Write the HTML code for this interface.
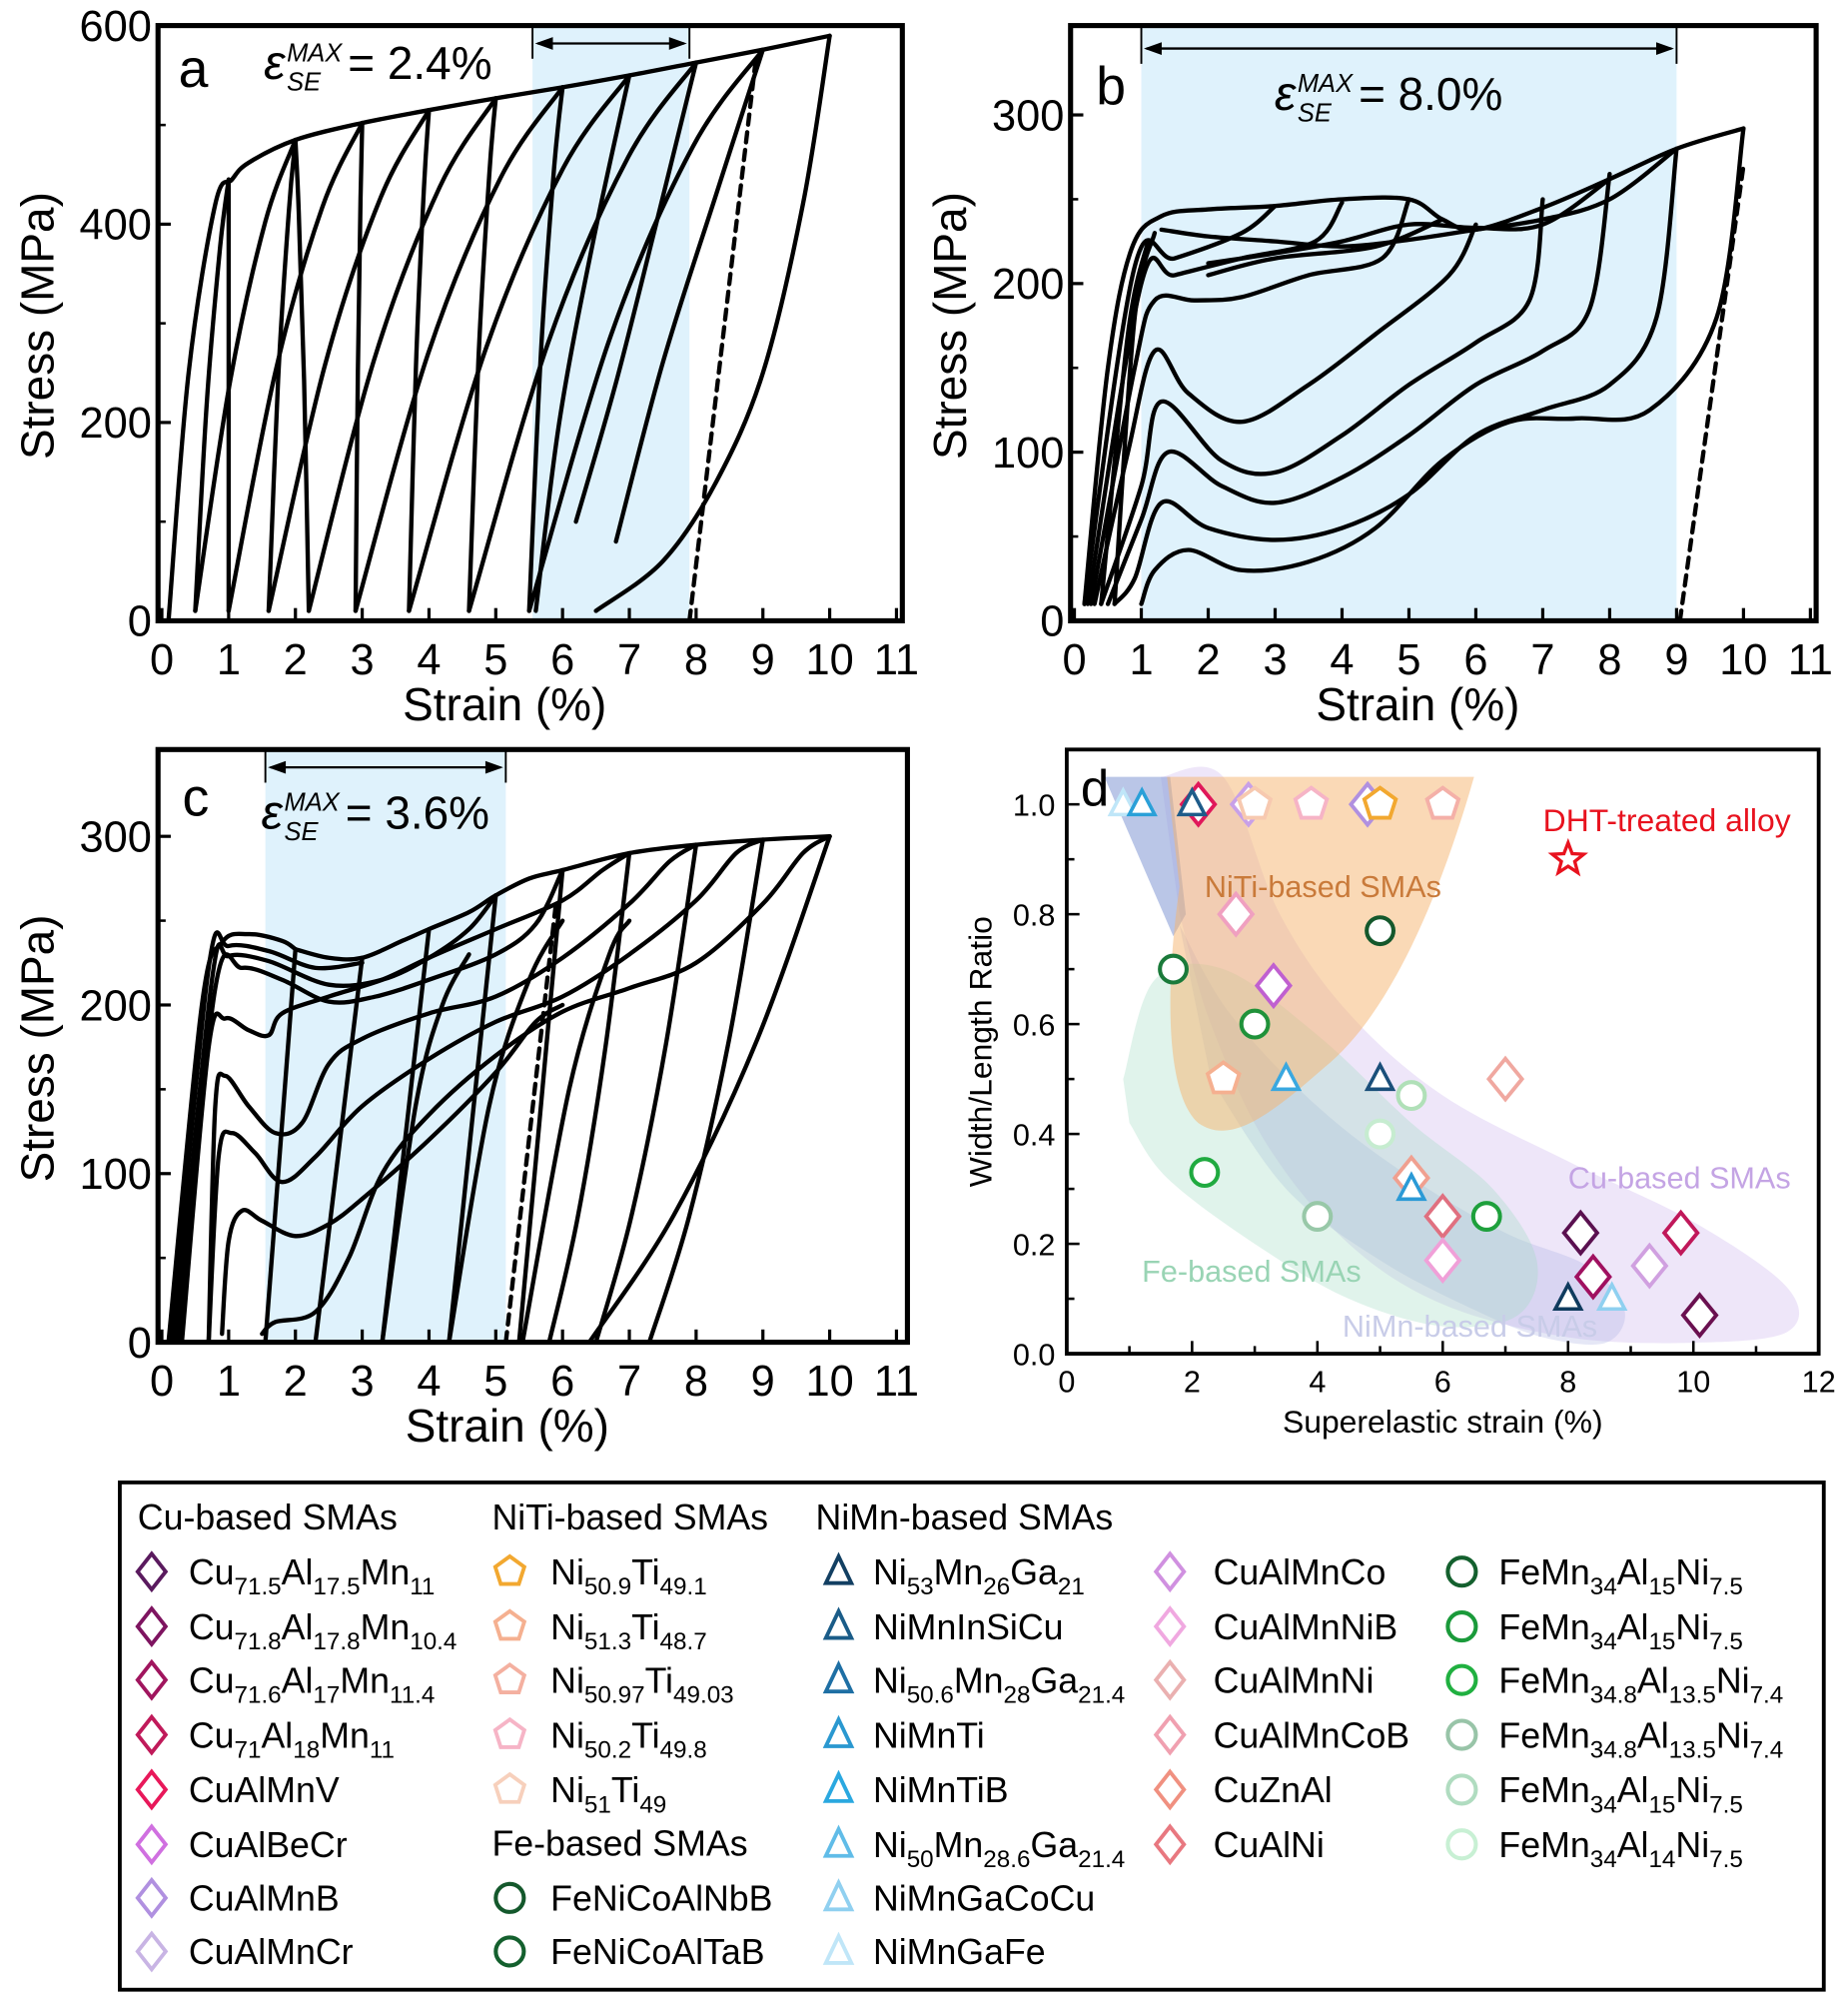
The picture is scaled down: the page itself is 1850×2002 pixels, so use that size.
<!DOCTYPE html>
<html><head><meta charset="utf-8">
<style>html,body{margin:0;padding:0;background:#fff;}svg{display:block;}
text{font-family:"Liberation Sans",sans-serif;}</style></head>
<body>
<svg id="s" width="1850" height="2002" viewBox="0 0 1450 1569" xmlns="http://www.w3.org/2000/svg"></svg>
<script>
var out=[];
function P(s){out.push(s);}
function cr(pts){
 if(pts.length<3){return "M"+pts.map(p=>p[0].toFixed(1)+","+p[1].toFixed(1)).join("L");}
 var d="M"+pts[0][0].toFixed(1)+","+pts[0][1].toFixed(1);
 for(var i=0;i<pts.length-1;i++){
  var p0=pts[i-1]||pts[i],p1=pts[i],p2=pts[i+1],p3=pts[i+2]||p2;
  var c1=[p1[0]+(p2[0]-p0[0])/6,p1[1]+(p2[1]-p0[1])/6];
  var c2=[p2[0]-(p3[0]-p1[0])/6,p2[1]-(p3[1]-p1[1])/6];
  d+="C"+c1[0].toFixed(1)+","+c1[1].toFixed(1)+" "+c2[0].toFixed(1)+","+c2[1].toFixed(1)+" "+p2[0].toFixed(1)+","+p2[1].toFixed(1);
 }
 return d;
}
function curve(X,Y,pts,extra){P('<path d="'+cr(pts.map(p=>[X(p[0]),Y(p[1])]))+'" fill="none" stroke="#000" stroke-width="3.4" stroke-linejoin="round" stroke-linecap="round" '+(extra||'')+'/>');}
function frame(x0,y0,x1,y1){P('<rect x="'+x0+'" y="'+y0+'" width="'+(x1-x0)+'" height="'+(y1-y0)+'" fill="none" stroke="#000" stroke-width="4"/>');}

function stressPanel(o){
 var X=v=>o.xo+o.xs*v, Y=v=>o.yb-o.ys*v;
 P('<rect x="'+X(o.sh[0])+'" y="'+o.top+'" width="'+(X(o.sh[1])-X(o.sh[0]))+'" height="'+(o.yb-o.top)+'" fill="#dff2fc"/>');
 var ay=o.ay;
 P('<line x1="'+X(o.sh[0])+'" y1="'+o.top+'" x2="'+X(o.sh[0])+'" y2="'+(ay+12)+'" stroke="#000" stroke-width="1.5"/>');
 P('<line x1="'+X(o.sh[1])+'" y1="'+o.top+'" x2="'+X(o.sh[1])+'" y2="'+(ay+12)+'" stroke="#000" stroke-width="1.5"/>');
 P('<line x1="'+(X(o.sh[0])+4)+'" y1="'+ay+'" x2="'+(X(o.sh[1])-4)+'" y2="'+ay+'" stroke="#000" stroke-width="1.8"/>');
 P('<path d="M'+(X(o.sh[0])+2)+','+ay+'l14,-5v10z M'+(X(o.sh[1])-2)+','+ay+'l-14,-5v10z" fill="#000"/>');
 o.curves.forEach(c=>curve(X,Y,c));
 o.dash.forEach(c=>curve(X,Y,c,'stroke-dasharray="8,6" stroke-width="2"'));
 frame(o.left,o.top,o.right,o.yb);
 for(var i=0;i<=11;i++){P('<line x1="'+X(i)+'" y1="'+o.yb+'" x2="'+X(i)+'" y2="'+(o.yb-10)+'" stroke="#000" stroke-width="2.5"/>');
  P('<text x="'+X(i)+'" y="'+(o.yb+42)+'" font-size="34" text-anchor="middle">'+i+'</text>');}
 o.yt.forEach(v=>{P('<line x1="'+o.left+'" y1="'+Y(v)+'" x2="'+(o.left+10)+'" y2="'+Y(v)+'" stroke="#000" stroke-width="2.5"/>');
  P('<text x="'+(o.left-5)+'" y="'+(Y(v)+12)+'" font-size="34" text-anchor="end">'+v+'</text>');});
 o.ym.forEach(v=>P('<line x1="'+o.left+'" y1="'+Y(v)+'" x2="'+(o.left+6)+'" y2="'+Y(v)+'" stroke="#000" stroke-width="2"/>'));
 P('<text x="'+((o.left+o.right)/2-20)+'" y="'+(o.yb+78)+'" font-size="36" text-anchor="middle">Strain (%)</text>');
 P('<text transform="translate('+(o.left-82)+','+((o.top+o.yb)/2+2)+') rotate(-90)" font-size="36" text-anchor="middle">Stress (MPa)</text>');
 P('<text x="'+o.lab[0]+'" y="'+o.lab[1]+'" font-size="42">'+o.lab[2]+'</text>');
 var tx=o.tx,ty=o.ty;
 P('<text x="'+tx+'" y="'+ty+'" font-size="38" font-family="Liberation Serif,serif" font-style="italic">ε</text>');
 P('<text x="'+(tx+18)+'" y="'+(ty-14)+'" font-size="20" font-style="italic">MAX</text>');
 P('<text x="'+(tx+18)+'" y="'+(ty+9)+'" font-size="20" font-style="italic">SE</text>');
 P('<text x="'+(tx+66)+'" y="'+ty+'" font-size="36">= '+o.val+'</text>');
}

// ---------- panel a
var ca=[];
ca.push([[0.1,0],[0.4,250],[0.8,420],[1.05,445],[1.3,462],[2,485],[3,502],[4,515],[5,527],[6,538],[7,550],[8,563],[9,576],[10,590]]);
var pk={1:445,2:485,3:502,4:515,5:527,6:538,7:550,8:563,9:576,10:590};
var bot=[0.1,0.5,1.0,1.6,2.2,2.9,3.7,4.6,5.5,6.5];
[[0.5,1],[1.0,1],[1.6,2],[2.2,2],[2.9,3],[3.7,4],[4.6,5],[5.5,6]].forEach(p=>{var b=p[0],k=p[1];ca.push([[b,10],[b+(k-b)*0.35,pk[k]*0.5],[b+(k-b)*0.75,pk[k]*0.85],[k,pk[k]]]);});
for(var k=2;k<=9;k++){var b=bot[k-1],h=pk[k];ca.push([[k,h],[b+0.7*(k-b),h*0.83],[b+0.35*(k-b),h*0.5],[b,10]]);}
ca.push([[7,550],[6.45,380],[5.95,200],[5.6,10]]);
ca.push([[8,563],[7.4,400],[6.8,240],[6.2,100]]);
ca.push([[9,576],[8.3,430],[7.5,260],[6.8,80]]);
ca.push([[10,590],[9.6,420],[9.0,250],[8.3,140],[7.5,60],[6.5,10]]);
stressPanel({xo:127,xs:52.4,yb:487,ys:0.778,top:20,left:124,right:708,sh:[5.55,7.9],ay:34,
 curves:ca,dash:[[[7.9,0],[8.9,570]]],yt:[0,200,400,600],ym:[100,300,500],lab:[140,68,'a'],tx:207,ty:62,val:'2.4%'});

// ---------- panel b
var cb=[];
cb.push([[0.15,10],[0.5,150],[0.85,220],[1.3,240],[2,244],[3,246],[4,250],[5,250],[5.5,238],[6,232],[7,245],[8,262],[9,280],[10,292]]);
cb.push([[10,292],[9.6,180],[8.6,125],[7.5,120],[6.5,118],[5.5,95],[4.5,55],[3.5,35],[2.5,30],[1.7,42],[1.2,30],[1.0,10]]);
cb.push([[9,280],[8.7,180],[8,140],[7,125],[6,110],[5,75],[4,55],[3,48],[2,55],[1.3,70],[0.9,25],[0.6,10]]);
cb.push([[8,265],[7.7,185],[7,160],[6,140],[5,110],[4,85],[3,70],[2.2,80],[1.4,100],[1,60],[0.5,10]]);
cb.push([[7,250],[6.8,190],[6,165],[5,140],[4,110],[3,88],[2.2,95],[1.3,130],[1,80],[0.4,10]]);
cb.push([[6,235],[5.6,205],[4.5,170],[3.5,140],[2.5,118],[1.7,135],[1.2,160],[0.8,100],[0.3,10]]);
cb.push([[5,250],[4.6,215],[3.5,205],[2.5,192],[1.8,190],[1.2,190],[0.9,150],[0.25,10]]);
cb.push([[4,248],[3.6,225],[2.5,215],[1.5,205],[1.0,200],[0.2,10]]);
cb.push([[3,246],[2.5,230],[1.5,215],[0.9,210],[0.15,10]]);
cb.push([[5.5,238],[4.5,222],[3,215],[2,205]]);
cb.push([[8,262],[7,235],[6,233],[5,235],[4,225],[3,218],[2,212]]);
cb.push([[9,280],[8,250],[7,238],[6,232],[5,226],[4,222],[3,225],[2,228],[1.3,232]]);
cb.push([[0.6,10],[0.9,180],[1.2,230]]);
cb.push([[0.4,10],[0.8,170],[1.1,225]]);
stressPanel({xo:843,xs:52.5,yb:487,ys:1.323,top:20,left:840,right:1425,sh:[1.0,9.0],ay:38,
 curves:cb,dash:[[[9.05,0],[10,270]]],yt:[0,100,200,300],ym:[50,150,250],lab:[860,82,'b'],tx:1000,ty:86,val:'8.0%'});

// ---------- panel c
var cc=[];
cc.push([[0.1,0],[0.6,200],[0.9,237],[1.3,242],[1.8,238],[2,233]]);
cc.push([[2,233],[2.5,228],[3,228],[3.6,238],[4,245],[4.6,255],[5,265],[5.5,275],[6,280],[7,290],[8,295],[9,298],[10,300]]);
cc.push([[0.15,0],[0.7,222],[1.0,235],[1.6,232],[2.3,222],[3,225]]);
cc.push([[0.2,0],[0.75,215],[1.0,229],[1.6,226],[2.5,212],[3.3,215],[4,228],[4.6,245],[5,265]]);
cc.push([[0.25,0],[0.8,210],[1.2,222],[1.8,215],[2.5,202],[3.2,205],[4,215],[5,230],[5.6,248],[6,280]]);
cc.push([[0.3,0],[0.7,175],[0.95,192],[1.3,185],[1.6,182],[1.8,195],[2.5,205],[3.3,215],[4,228],[5,245],[6,262],[6.6,280],[7,290]]);
cc.push([[0.7,0],[0.8,140],[0.95,158],[1.3,140],[1.7,124],[2.1,130],[2.5,165],[3,180],[4,195],[5,205],[6,228],[7,260],[7.6,285],[8,295]]);
cc.push([[0.7,0],[0.85,110],[1.05,124],[1.4,112],[1.8,95],[2.3,110],[3,140],[4,168],[5,190],[6,205],[7,230],[8,262],[8.6,290],[9,298]]);
cc.push([[1.5,5],[1.7,12],[2.3,18],[2.8,50],[3.3,100],[4,135],[5,170],[6,196],[7,210],[8,225],[9,260],[9.6,290],[10,300]]);
cc.push([[0.9,5],[1.0,60],[1.2,78],[1.5,72],[2,63],[2.5,70],[3,85],[4,120],[5,160],[5.6,190],[6,200]]);
[[2,233,1.55],[3,228,2.3],[4,245,3.3],[5,265,4.3],[6,280,5.35],[7,290,5.8],[8,295,6.5],[9,298,7.3],[10,300,6.4]].forEach(p=>{
 var k=p[0],h=p[1],b=p[2];
 if(k<=6) cc.push([[k,h],[b+(k-b)*0.45,h*0.45],[b,0]]);
 else cc.push([[k,h],[k-(k-b)*0.3,h*0.6],[k-(k-b)*0.65,h*0.25],[b,0]]);
});
cc.push([[3.3,0],[3.8,140],[4.2,200],[4.6,230]]);
cc.push([[4.3,0],[4.9,140],[5.5,215],[6,250]]);
cc.push([[5.4,0],[6.1,150],[6.7,230],[7,250]]);
stressPanel({xo:127,xs:52.4,yb:1053,ys:1.323,top:588,left:124,right:712,sh:[1.55,5.15],ay:602,
 curves:cc,dash:[[[5.15,0],[5.9,260]]],yt:[0,100,200,300],ym:[50,150,250],lab:[143,640,'c'],tx:205,ty:650,val:'3.6%'});

// ---------- panel d
(function(){
 var X=v=>837+49.17*v, Y=v=>1062-431*v;
 function poly(pts,fill){P('<path d="'+cr(pts.map(p=>[X(p[0]),Y(p[1])]))+'Z" fill="'+fill+'" stroke="none"/>');}
 P('<clipPath id="cd"><rect x="837" y="588" width="590" height="474"/></clipPath><g clip-path="url(#cd)">');
 poly([[1.5,1.05],[2.5,1.05],[3.4,0.8],[4.5,0.62],[6,0.47],[8,0.35],[10,0.24],[11.5,0.12],[11.5,0.04],[10,0.02],[8,0.03],[6,0.09],[4.5,0.2],[3.2,0.38],[2.3,0.6],[1.8,0.8]],'rgba(214,195,240,0.42)');
 P('<path d="M'+X(0.6)+','+Y(1.05)+'L'+X(1.65)+','+Y(1.05)+'L'+X(1.9)+','+Y(0.8)+'L'+X(1.7)+','+Y(0.76)+'Z" fill="rgba(140,160,215,0.6)"/>');
 poly([[1.8,0.78],[2.6,0.62],[4,0.45],[5.5,0.32],[7,0.22],[8.3,0.16],[8.9,0.08],[8.6,0.02],[7.6,0.03],[6.5,0.08],[5,0.17],[3.5,0.3],[2.3,0.5]],'rgba(170,175,225,0.3)');
 poly([[0.9,0.5],[1.4,0.68],[2.5,0.7],[4,0.58],[5.5,0.42],[6.8,0.3],[7.5,0.17],[7.2,0.07],[6,0.05],[4.5,0.1],[3,0.2],[1.6,0.32],[1.0,0.42]],'rgba(160,220,195,0.33)');
 P('<path d="M'+X(1.6)+','+Y(1.05)+'L'+X(6.5)+','+Y(1.05)+' C'+X(6.0)+','+Y(0.85)+' '+X(5.2)+','+Y(0.62)+' '+X(4.1)+','+Y(0.52)+' C'+X(3.2)+','+Y(0.43)+' '+X(2.6)+','+Y(0.38)+' '+X(2.1)+','+Y(0.42)+' C'+X(1.6)+','+Y(0.47)+' '+X(1.55)+','+Y(0.65)+' '+X(1.8)+','+Y(0.85)+'Z" fill="rgba(245,180,110,0.5)"/>');
 P('</g>');
 P('<text x="'+X(2.2)+'" y="'+(Y(0.85)+8)+'" font-size="24" fill="#c97a3a">NiTi-based SMAs</text>');
 P('<text x="'+X(8)+'" y="'+(Y(0.32)+8)+'" font-size="24" fill="#c4a4e4">Cu-based SMAs</text>');
 P('<text x="'+X(1.2)+'" y="'+(Y(0.15)+8)+'" font-size="24" fill="#99d4b4">Fe-based SMAs</text>');
 P('<text x="'+X(4.4)+'" y="'+(Y(0.05)+8)+'" font-size="24" fill="#c8cce8">NiMn-based SMAs</text>');
 P('<text x="'+X(7.6)+'" y="'+(Y(0.97)+8)+'" font-size="25" fill="#e8121e">DHT-treated alloy</text>');
 function tri(x,y,c){var cx=X(x),cy=Y(y);P('<path d="M'+cx+','+(cy-11)+'L'+(cx+10)+','+(cy+8)+'L'+(cx-10)+','+(cy+8)+'Z" fill="#fff" stroke="'+c+'" stroke-width="2.8"/>');}
 function dia(x,y,c){var cx=X(x),cy=Y(y);P('<path d="M'+cx+','+(cy-16)+'L'+(cx+13)+','+cy+'L'+cx+','+(cy+16)+'L'+(cx-13)+','+cy+'Z" fill="#fff" stroke="'+c+'" stroke-width="3"/>');}
 function pen(x,y,c){var cx=X(x),cy=Y(y),d='';for(var i=0;i<5;i++){var a=-Math.PI/2+i*2*Math.PI/5;d+=(i?'L':'M')+(cx+13*Math.cos(a)).toFixed(1)+','+(cy+13*Math.sin(a)).toFixed(1);}P('<path d="'+d+'Z" fill="#fff" stroke="'+c+'" stroke-width="3"/>');}
 function cir(x,y,c){P('<circle cx="'+X(x)+'" cy="'+Y(y)+'" r="10.5" fill="#fff" stroke="'+c+'" stroke-width="3.2"/>');}
 tri(0.9,1,'#bfe6f8');tri(1.2,1,'#2aa0d8');
 dia(2.1,1,'#e0185a');tri(2.0,1,'#1e5c8a');
 dia(2.9,1,'#c8a0e8');pen(3,1,'#f7c9b0');pen(3.9,1,'#f6b4c6');dia(4.8,1,'#b090e0');pen(5,1,'#f2a830');pen(6,1,'#f4b0a8');
 dia(2.7,0.8,'#f0a0c0');cir(5,0.77,'#14582c');cir(1.7,0.7,'#1a7a3a');dia(3.3,0.67,'#c060d0');cir(3,0.6,'#20923a');
 pen(2.5,0.5,'#f5b090');tri(3.5,0.5,'#3aa8e0');tri(5,0.5,'#1a4f7a');cir(5.5,0.47,'#b0e0b8');dia(7,0.5,'#f0a8a0');
 cir(5,0.4,'#c6ecd0');cir(2.2,0.33,'#20aa40');dia(5.5,0.32,'#f0a090');tri(5.5,0.3,'#2b9ad6');
 cir(4,0.25,'#98c8a8');dia(6,0.25,'#e07080');cir(6.7,0.25,'#1ea03c');dia(6,0.17,'#f0a0d8');
 dia(8.2,0.22,'#5a1050');dia(8.4,0.14,'#a01060');tri(8,0.1,'#0f3b5e');tri(8.7,0.1,'#8fd0f0');dia(9.3,0.16,'#d0a0e0');dia(9.8,0.22,'#c0185a');dia(10.1,0.07,'#6a1050');
 var sx=X(8),sy=Y(0.9),d='';for(var i=0;i<10;i++){var a=-Math.PI/2+i*Math.PI/5,r=i%2?5.5:13;d+=(i?'L':'M')+(sx+r*Math.cos(a)).toFixed(1)+','+(sy+r*Math.sin(a)).toFixed(1);}
 P('<path d="'+d+'Z" fill="#fff" stroke="#e8121e" stroke-width="2.6"/>');
 P('<rect x="837" y="588" width="590" height="474" fill="none" stroke="#000" stroke-width="3"/>');
 for(var i=0;i<=12;i++){var xx=X(i);P('<line x1="'+xx+'" y1="1062" x2="'+xx+'" y2="'+(i%2?1056:1052)+'" stroke="#000" stroke-width="2"/>');
  if(i%2==0)P('<text x="'+xx+'" y="1092" font-size="24" text-anchor="middle">'+i+'</text>');}
 for(var j=0;j<=10;j++){var v=j/10,yy=Y(v);P('<line x1="837" y1="'+yy+'" x2="'+(j%2?843:847)+'" y2="'+yy+'" stroke="#000" stroke-width="2"/>');
  if(j%2==0)P('<text x="828" y="'+(yy+9)+'" font-size="24" text-anchor="end">'+v.toFixed(1)+'</text>');}
 P('<text x="1132" y="1124" font-size="25" text-anchor="middle">Superelastic strain (%)</text>');
 P('<text transform="translate(778,825) rotate(-90)" font-size="25" text-anchor="middle">Width/Length Ratio</text>');
 P('<text x="848" y="632" font-size="40">d</text>');
})();

// ---------- legend
P('<rect x="94" y="1163" width="1337" height="398" fill="#fff" stroke="#000" stroke-width="3"/>');
function lt(x,y,parts){
 var s='<text x="'+x+'" y="'+y+'" font-size="28">',sub=false;
 parts.forEach(p=>{s+='<tspan'+(sub?' dy="-8"':'')+'>'+p[0]+'</tspan>';sub=false;if(p[1]){s+='<tspan font-size="19" dy="8">'+p[1]+'</tspan>';sub=true;}});
 P(s+'</text>');
}
function parse(str){var a=[],re=/([^_]+)(?:_\{([^}]*)\})?/g,m;while((m=re.exec(str))){a.push([m[1],m[2]]);}return a;}
P('<text x="108" y="1200" font-size="28">Cu-based  SMAs</text>');
P('<text x="386" y="1200" font-size="28">NiTi-based  SMAs</text>');
P('<text x="640" y="1200" font-size="28">NiMn-based  SMAs</text>');
P('<text x="386" y="1456" font-size="28">Fe-based  SMAs</text>');
var rows=[1233,1276,1318,1361,1404,1447,1489,1531];
function mk(type,x,y,c){
 if(type=='d')P('<path d="M'+x+','+(y-14)+'L'+(x+11)+','+y+'L'+x+','+(y+14)+'L'+(x-11)+','+y+'Z" fill="#fff" stroke="'+c+'" stroke-width="3"/>');
 if(type=='p'){var d='';for(var i=0;i<5;i++){var a=-Math.PI/2+i*2*Math.PI/5;d+=(i?'L':'M')+(x+12*Math.cos(a)).toFixed(1)+','+(y+12*Math.sin(a)).toFixed(1);}P('<path d="'+d+'Z" fill="#fff" stroke="'+c+'" stroke-width="3"/>');}
 if(type=='t')P('<path d="M'+x+','+(y-12)+'L'+(x+10)+','+(y+9)+'L'+(x-10)+','+(y+9)+'Z" fill="#fff" stroke="'+c+'" stroke-width="3"/>');
 if(type=='c')P('<circle cx="'+x+'" cy="'+y+'" r="11" fill="#fff" stroke="'+c+'" stroke-width="3.2"/>');
}
var cols=[
 {mx:119,tx:148,items:[['d','#5a1a5e','Cu_{71.5}Al_{17.5}Mn_{11}'],['d','#7e1460','Cu_{71.8}Al_{17.8}Mn_{10.4}'],['d','#a0155e','Cu_{71.6}Al_{17}Mn_{11.4}'],['d','#c01a5a','Cu_{71}Al_{18}Mn_{11}'],['d','#e8185a','CuAlMnV'],['d','#d070e0','CuAlBeCr'],['d','#b090e0','CuAlMnB'],['d','#c8b4e4','CuAlMnCr']]},
 {mx:400,tx:432,items:[['p','#f2a830','Ni_{50.9}Ti_{49.1}'],['p','#f5b090','Ni_{51.3}Ti_{48.7}'],['p','#f4b0a0','Ni_{50.97}Ti_{49.03}'],['p','#f6b4c6','Ni_{50.2}Ti_{49.8}'],['p','#f7d0bc','Ni_{51}Ti_{49}'],null,['c','#14582c','FeNiCoAlNbB'],['c','#14602e','FeNiCoAlTaB']]},
 {mx:658,tx:685,items:[['t','#123f62','Ni_{53}Mn_{26}Ga_{21}'],['t','#1a5c88','NiMnInSiCu'],['t','#1e6fa4','Ni_{50.6}Mn_{28}Ga_{21.4}'],['t','#2a98d0','NiMnTi'],['t','#2aa8e0','NiMnTiB'],['t','#60bce8','Ni_{50}Mn_{28.6}Ga_{21.4}'],['t','#90d0f0','NiMnGaCoCu'],['t','#c0e6f8','NiMnGaFe']]},
 {mx:918,tx:952,items:[['d','#d090e0','CuAlMnCo'],['d','#f0a8e0','CuAlMnNiB'],['d','#eab0b0','CuAlMnNi'],['d','#f0a0b0','CuAlMnCoB'],['d','#f09080','CuZnAl'],['d','#e87880','CuAlNi']]},
 {mx:1147,tx:1176,items:[['c','#14602e','FeMn_{34}Al_{15}Ni_{7.5}'],['c','#1a9a3a','FeMn_{34}Al_{15}Ni_{7.5}'],['c','#20b040','FeMn_{34.8}Al_{13.5}Ni_{7.4}'],['c','#98c4a8','FeMn_{34.8}Al_{13.5}Ni_{7.4}'],['c','#b0dcc0','FeMn_{34}Al_{15}Ni_{7.5}'],['c','#c8f0d4','FeMn_{34}Al_{14}Ni_{7.5}']]}
];
cols.forEach(col=>col.items.forEach((it,i)=>{if(!it)return;mk(it[0],col.mx,rows[i],it[1]);lt(col.tx,rows[i]+10,parse(it[2]));}));
document.getElementById('s').innerHTML=out.join('');
</script>
</body></html>
